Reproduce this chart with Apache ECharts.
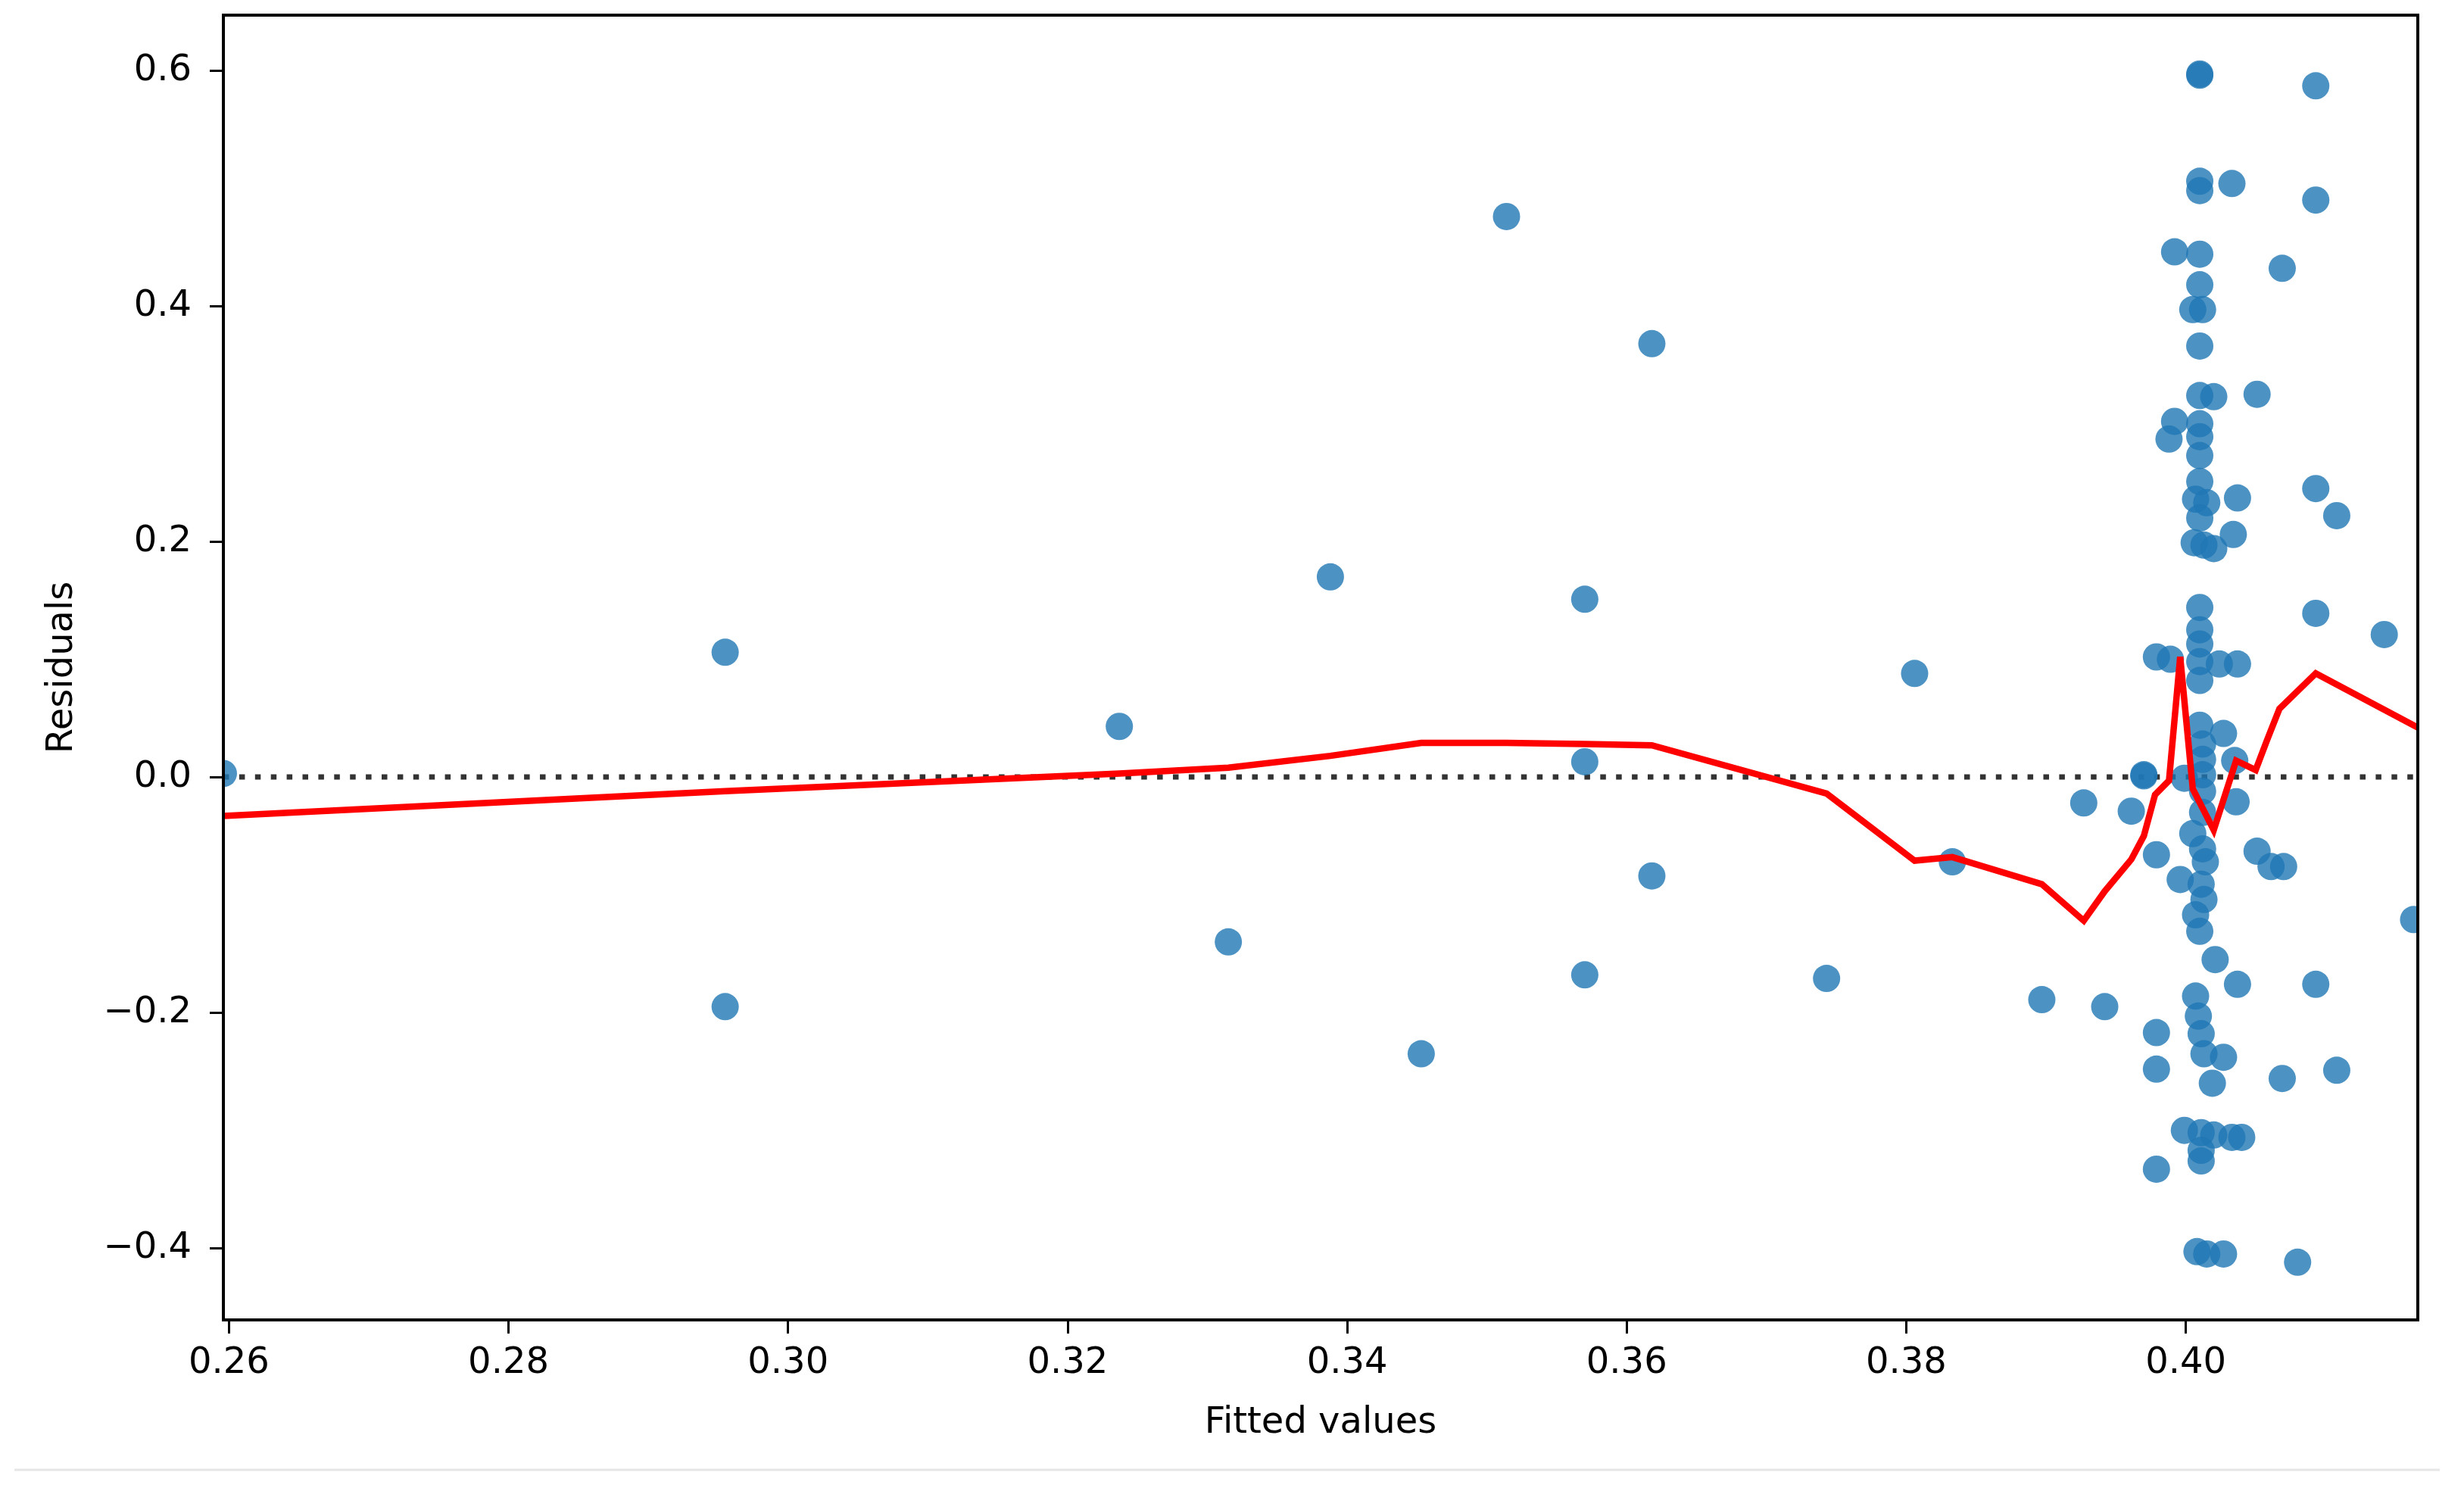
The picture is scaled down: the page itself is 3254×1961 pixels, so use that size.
<!DOCTYPE html>
<html>
<head>
<meta charset="utf-8">
<script src="https://cdn.jsdelivr.net/npm/echarts@6/dist/echarts.min.js"></script>
<style>
html,body{margin:0;padding:0;background:#ffffff;}
#chart{width:3254px;height:1961px;}
</style>
</head>
<body>
<div id="chart"></div>
<script>
// ---- data ----
const fittedValues = [
  0.2596, 0.2955, 0.2955, 0.3237, 0.3315, 0.3388, 0.3453, 0.3514, 0.3570, 0.3570,
  0.3570, 0.3618, 0.3618, 0.3743, 0.3806, 0.3833, 0.3897, 0.3927, 0.3942, 0.3961,
  0.3970, 0.3970, 0.3979,
  0.4010, 0.4010, 0.4093, 0.4010, 0.4010, 0.4033, 0.4093, 0.3992, 0.4010, 0.4069,
  0.4010, 0.4005, 0.4012, 0.4010, 0.4010, 0.4020, 0.4051, 0.3992, 0.3988, 0.4010,
  0.4010, 0.4010, 0.4010, 0.4007, 0.4015, 0.4037, 0.4010, 0.4034, 0.4006, 0.4013,
  0.4020, 0.4093, 0.4108, 0.4010, 0.4010, 0.4010, 0.3979, 0.3989, 0.4010, 0.4024,
  0.4037, 0.4010, 0.4093, 0.4142, 0.4010, 0.4027, 0.4012, 0.4012, 0.4012, 0.4012,
  0.4012, 0.3999, 0.4035, 0.4036, 0.4005, 0.4012, 0.4014, 0.3996, 0.4011, 0.4013,
  0.4007, 0.4010, 0.4051, 0.4061, 0.4070, 0.4163, 0.4021, 0.4037, 0.4093, 0.4007,
  0.4009, 0.4011, 0.4013, 0.4027, 0.3979, 0.3979, 0.4019, 0.4069, 0.4108, 0.3999,
  0.4011, 0.4020, 0.4033, 0.4040, 0.4011, 0.4011, 0.3979, 0.4008, 0.4015, 0.4027,
  0.4080
];
const residuals = [
  0.003, 0.106, -0.195, 0.043, -0.140, 0.170, -0.235, 0.476, 0.151, 0.013,
  -0.168, 0.368, -0.084, -0.171, 0.088, -0.072, -0.189, -0.022, -0.195, -0.029,
  0.002, 0.001, -0.066,
  0.597, 0.596, 0.587, 0.506, 0.498, 0.504, 0.490, 0.446, 0.444, 0.432,
  0.418, 0.397, 0.397, 0.366, 0.324, 0.323, 0.325, 0.302, 0.287, 0.300,
  0.289, 0.273, 0.251, 0.236, 0.233, 0.237, 0.220, 0.206, 0.199, 0.197,
  0.194, 0.245, 0.222, 0.144, 0.125, 0.113, 0.102, 0.100, 0.098, 0.096,
  0.096, 0.082, 0.139, 0.121, 0.044, 0.037, 0.028, 0.015, 0.002, -0.012,
  -0.030, -0.001, 0.014, -0.021, -0.048, -0.061, -0.072, -0.087, -0.091, -0.104,
  -0.117, -0.131, -0.063, -0.076, -0.076, -0.121, -0.155, -0.176, -0.176, -0.186,
  -0.203, -0.218, -0.235, -0.238, -0.217, -0.248, -0.260, -0.256, -0.249, -0.300,
  -0.302, -0.304, -0.306, -0.306, -0.317, -0.326, -0.333, -0.403, -0.405, -0.405,
  -0.412
];
const lowessX = [0.2596, 0.2955, 0.3237, 0.3315, 0.3388, 0.3453, 0.3514, 0.3570, 0.3618, 0.3743,
  0.3806, 0.3833, 0.3897, 0.3927, 0.3942, 0.3961, 0.3970, 0.3978, 0.3988, 0.3996,
  0.4005, 0.4020, 0.4036, 0.4050, 0.4058, 0.4067, 0.4093, 0.4166];
const lowessY = [-0.033, -0.012, 0.003, 0.008, 0.018, 0.029, 0.029, 0.028, 0.027, -0.014,
  -0.071, -0.068, -0.091, -0.122, -0.097, -0.070, -0.050, -0.015, -0.003, 0.102,
  -0.010, -0.045, 0.014, 0.006, 0.031, 0.058, 0.088, 0.042];
const xTickValues = [0.26, 0.28, 0.30, 0.32, 0.34, 0.36, 0.38, 0.40];
const yTickValues = [-0.4, -0.2, 0.0, 0.2, 0.4, 0.6];
const xLimits = [0.2596, 0.4166];
const yLimits = [-0.461, 0.647];
const zeroLine = [[xLimits[0], 0], [xLimits[1], 0]];

const FONT = 'DejaVu Sans';
const G = {left: 295, right: 61, top: 20, bottom: 218};

const chart = echarts.init(document.getElementById('chart'), null, {renderer: 'canvas'});
const scatterData = fittedValues.map((x, i) => [x, residuals[i]]);
const lowessData = lowessX.map((x, i) => [x, lowessY[i]]);

chart.setOption({
  animation: false,
  backgroundColor: '#ffffff',
  grid: {
    left: G.left, right: G.right, top: G.top, bottom: G.bottom,
    show: true, borderColor: '#000000', borderWidth: 4,
    backgroundColor: 'transparent', z: 10
  },
  xAxis: {
    type: 'value', min: xLimits[0], max: xLimits[1], z: 10,
    axisLine: {show: false, onZero: false},
    splitLine: {show: false},
    axisTick: {show: true, customValues: xTickValues, length: 18,
      lineStyle: {color: '#000000', width: 3}},
    axisLabel: {show: true, customValues: xTickValues, margin: 34,
      formatter: v => v.toFixed(2),
      fontFamily: FONT, fontSize: 48, color: '#000000'},
    name: 'Fitted values', nameLocation: 'middle', nameGap: 113,
    nameTextStyle: {fontFamily: FONT, fontSize: 48, color: '#000000'}
  },
  yAxis: {
    type: 'value', min: yLimits[0], max: yLimits[1], z: 10,
    axisLine: {show: false, onZero: false},
    splitLine: {show: false},
    axisTick: {show: true, customValues: yTickValues, length: 18,
      lineStyle: {color: '#000000', width: 3}},
    axisLabel: {show: true, customValues: yTickValues, margin: 42,
      formatter: v => (v < -1e-9 ? '\u2212' : '') + Math.abs(v).toFixed(1),
      fontFamily: FONT, fontSize: 48, color: '#000000'},
    name: 'Residuals', nameLocation: 'middle', nameGap: 188,
    nameTextStyle: {fontFamily: FONT, fontSize: 48, color: '#000000'}
  },
  series: [
    {
      type: 'line', data: zeroLine, symbol: 'none', z: 1, silent: true,
      lineStyle: {color: '#333333', width: 7, type: [7.5, 13.4]}
    },
    {
      type: 'scatter', data: scatterData, symbol: 'circle', symbolSize: 36, z: 2,
      itemStyle: {color: '#1f77b4', opacity: 0.8}
    },
    {
      type: 'line', data: lowessData, symbol: 'none', z: 3, silent: true,
      lineStyle: {color: '#ff0000', width: 8.5, join: 'miter'}
    }
  ],
  graphic: [
    {type: 'rect', z: 5, silent: true, shape: {x: 258, y: 980, width: 35, height: 95},
      style: {fill: '#ffffff'}},
    {type: 'rect', z: 5, silent: true, shape: {x: 3195, y: 1160, width: 59, height: 120},
      style: {fill: '#ffffff'}},
    {type: 'line', z: 5, silent: true, shape: {x1: 19, y1: 1941, x2: 3222, y2: 1941},
      style: {stroke: '#e6e6e6', lineWidth: 3}}
  ]
});
</script>
</body>
</html>
